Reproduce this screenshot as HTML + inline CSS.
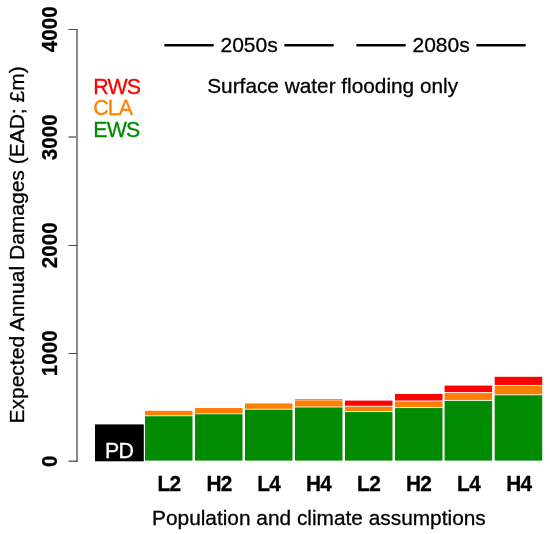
<!DOCTYPE html>
<html><head><meta charset="utf-8">
<style>
html,body{margin:0;padding:0;background:#fff;}
body{width:550px;height:534px;overflow:hidden;}
svg{display:block;}
text{font-family:"Liberation Sans",Arial,sans-serif;color:#000;fill:currentColor;stroke:currentColor;stroke-width:0.3px;}
.b{font-weight:bold;}
</style></head><body>
<svg width="550" height="534" viewBox="0 0 550 534">
<rect width="550" height="534" fill="#fff"/>
<!-- axis -->
<g fill="none">
<path d="M77 29V461.8" stroke="#8c8c8c" stroke-width="2"/>
<path d="M68.5 29.5H77.5M68.5 245.5H77.5M68.5 353.5H77.5" stroke="#4a4a4a" stroke-width="1"/>
<path d="M68.5 137H77" stroke="#8c8c8c" stroke-width="2"/>
<path d="M68.5 461.2H77.8" stroke="#5a5a5a" stroke-width="1.4"/>
</g>
<!-- bars -->
<rect x="95" y="424.4" width="48.8" height="36.9" fill="#000"/>
<g fill="#008b00">
<rect x="145" y="416.25" width="47.5" height="44.35"/>
<rect x="195" y="414.25" width="47.5" height="46.35"/>
<rect x="245" y="409.65" width="47.5" height="50.95"/>
<rect x="295" y="407.45" width="47.5" height="53.15"/>
<rect x="345" y="412.05" width="47.5" height="48.55"/>
<rect x="395" y="408.05" width="47.5" height="52.55"/>
<rect x="444.6" y="400.85" width="47.5" height="59.75"/>
<rect x="494.7" y="395.25" width="47.5" height="65.35"/>
</g>
<g fill="#ff7f00">
<rect x="145" y="410.8" width="47.5" height="4.55"/>
<rect x="195" y="408" width="47.5" height="5.55"/>
<rect x="245" y="403.4" width="47.5" height="5.35"/>
<rect x="295" y="400.35" width="47.5" height="6.20"/>
<rect x="345" y="406.65" width="47.5" height="4.50"/>
<rect x="395" y="401.45" width="47.5" height="5.70"/>
<rect x="444.6" y="393.05" width="47.5" height="6.90"/>
<rect x="494.7" y="385.85" width="47.5" height="8.50"/>
</g>
<g fill="#ff0000">
<rect x="295" y="399.2" width="47.5" height="0.8" fill="#ff6060"/>
<rect x="345" y="400.60" width="47.5" height="5.15"/>
<rect x="395" y="394.00" width="47.5" height="6.55"/>
<rect x="444.6" y="385.60" width="47.5" height="6.55"/>
<rect x="494.7" y="376.80" width="47.5" height="8.15"/>
</g>
<!-- top lines -->
<g stroke="#000" stroke-width="2.6" stroke-linecap="round">
<path d="M165.4 45.3H212.7M285.4 45.3H332.7M357.4 45.3H404.7M477.4 45.3H524.7"/>
</g>
<text x="249.1" y="52.3" font-size="21" text-anchor="middle">2050s</text>
<text x="441.1" y="52.3" font-size="21" text-anchor="middle">2080s</text>
<text x="332.7" y="93.4" font-size="20.8" text-anchor="middle">Surface water flooding only</text>
<text transform="translate(93.3 94) scale(.98 1)" font-size="21.8" letter-spacing="-0.9" style="color:#ff0000">RWS</text>
<text transform="translate(93.3 115) scale(.98 1)" font-size="21.8" letter-spacing="-0.9" style="color:#ff7f00">CLA</text>
<text transform="translate(93.3 137.2) scale(.98 1)" font-size="21.8" letter-spacing="-0.9" style="color:#008b00">EWS</text>
<text transform="translate(119.2 458) scale(.99 1)" font-size="21.5" letter-spacing="-0.7" text-anchor="middle" style="color:#fff">PD</text>
<!-- x labels -->
<g class="b" font-size="21.8" letter-spacing="-0.7" text-anchor="middle">
<text transform="translate(169 491.2) scale(.955 1)">L2</text><text transform="translate(219 491.2) scale(.955 1)">H2</text><text transform="translate(268.8 491.2) scale(.955 1)">L4</text><text transform="translate(318.6 491.2) scale(.955 1)">H4</text>
<text transform="translate(368.6 491.2) scale(.955 1)">L2</text><text transform="translate(418.6 491.2) scale(.955 1)">H2</text><text transform="translate(468.6 491.2) scale(.955 1)">L4</text><text transform="translate(518.8 491.2) scale(.955 1)">H4</text>
</g>
<text x="318.9" y="524.6" font-size="20.85" text-anchor="middle">Population and climate assumptions</text>
<!-- y labels -->
<g class="b" font-size="22.6" text-anchor="middle">
<text transform="translate(57 29.3) rotate(-90) scale(0.91 1)">4000</text>
<text transform="translate(57 137.3) rotate(-90) scale(0.91 1)">3000</text>
<text transform="translate(57 245.3) rotate(-90) scale(0.91 1)">2000</text>
<text transform="translate(57 353.3) rotate(-90) scale(0.91 1)">1000</text>
<text transform="translate(57 461.3) rotate(-90) scale(0.91 1)">0</text>
</g>
<text transform="translate(24 244.9) rotate(-90)" font-size="21.0" text-anchor="middle">Expected Annual Damages (EAD; £m)</text>
</svg>
</body></html>
